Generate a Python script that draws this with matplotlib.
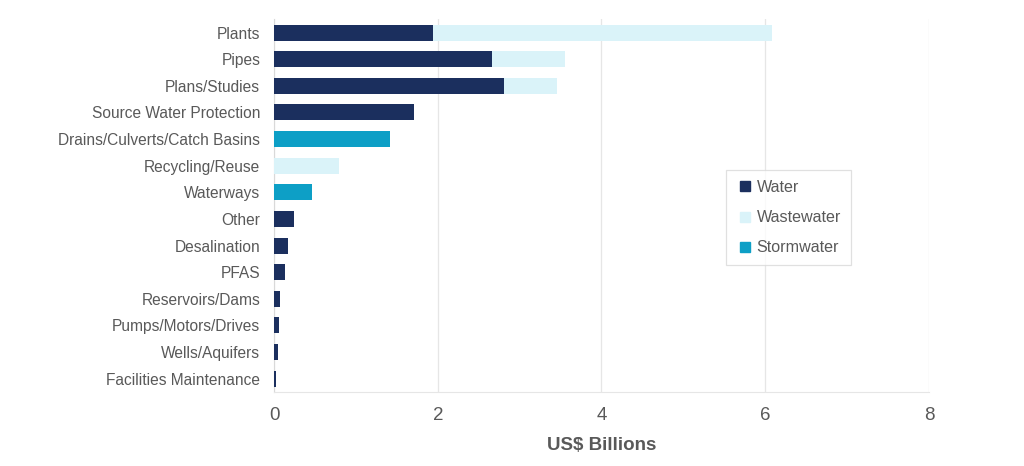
import numpy as np
import matplotlib

matplotlib.use("Agg")
import matplotlib.pyplot as plt  # noqa: E402
from matplotlib.lines import Line2D  # noqa: E402

plt.rcParams["font.family"] = ["Liberation Sans", "DejaVu Sans"]

categories = [
    "Plants", "Pipes", "Plans/Studies", "Source Water Protection",
    "Drains/Culverts/Catch Basins", "Recycling/Reuse", "Waterways", "Other",
    "Desalination", "PFAS", "Reservoirs/Dams", "Pumps/Motors/Drives",
    "Wells/Aquifers", "Facilities Maintenance",
]
water = [1.94, 2.66, 2.81, 1.71, 0, 0, 0, 0.24, 0.17, 0.13, 0.07, 0.06, 0.05, 0.02]
wastewater = [4.14, 0.89, 0.65, 0, 0, 0.79, 0, 0, 0, 0, 0, 0, 0, 0]
stormwater = [0, 0, 0, 0, 1.42, 0, 0.46, 0, 0, 0, 0, 0, 0, 0]
series_names = ["Water", "Wastewater", "Stormwater"]
COLORS = ["#1b2f5e", "#daf3f9", "#0d9fc6"]
TEXT = "#595959"

fig = plt.figure(figsize=(10.24, 4.66), dpi=100)
ax = fig.add_axes([0.2676, 0.1588, 0.6396, 0.8])

y = np.arange(len(categories))
left = np.zeros(len(categories))
for vals, color in zip([water, wastewater, stormwater], COLORS):
    vals = np.array(vals)
    ax.barh(y, vals, left=left, height=0.6, color=color, zorder=3)
    left += vals

ax.set_ylim(len(categories) - 0.5, -0.5)
ax.set_yticks(y)
ax.set_yticklabels(categories, fontsize=11.2, color=TEXT)
ax.set_xlim(0, 8)
ax.set_xticks([0, 2, 4, 6, 8])
ax.tick_params(axis="x", labelsize=13.5, colors=TEXT, length=0, pad=11)
ax.tick_params(axis="y", length=0, pad=10)
ax.grid(axis="x", color="#e6e6e6", lw=0.9, zorder=0)
for s in ["top", "right"]:
    ax.spines[s].set_visible(False)
ax.spines["bottom"].set_color("#e6e6e6")
ax.spines["left"].set_color("#d9d9d9")
ax.set_xlabel("US$ Billions", fontsize=13.5, fontweight="bold", color=TEXT, labelpad=9)

handles = [Line2D([], [], ls="none", marker="s", markersize=6.5, color=c) for c in COLORS]
leg = ax.legend(handles, series_names, loc="upper left", bbox_to_anchor=(0.69, 0.595),
                fontsize=11.6, frameon=True, fancybox=False, labelspacing=0.95,
                handletextpad=0.1, handlelength=1.2, borderpad=0.6, borderaxespad=0)
leg.get_frame().set_edgecolor("#d9d9d9")
leg.get_frame().set_linewidth(0.9)
for t in leg.get_texts():
    t.set_color(TEXT)

fig.savefig("out.png", dpi=100)
